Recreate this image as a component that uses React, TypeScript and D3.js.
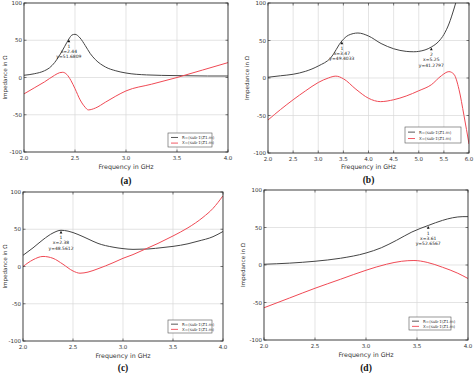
import React from "react";
import * as d3 from "d3";

// ---------- Data ----------
const yTicks = [-100, -50, 0, 50, 100];
const xTicksA = [2.0, 2.5, 3.0, 3.5, 4.0];
const xTicksB = [2.0, 2.5, 3.0, 3.5, 4.0, 4.5, 5.0, 5.5, 6.0];
const legendLabels = ["R=(sub-1\\Z1.m)", "X=(sub-1\\Z1.m)"];

// panel (a)
const aRFreq = [2.0, 2.1, 2.2, 2.25, 2.3, 2.35, 2.4, 2.44, 2.47, 2.5, 2.55, 2.6, 2.65, 2.7, 2.8, 2.9, 3.0, 3.2, 3.5, 3.8, 4.0];
const aR = [3, 5, 9, 13, 20, 30, 42, 51.7, 57, 58, 53, 43, 32, 24, 14, 9, 6, 3.5, 2.5, 2, 2];
const aXFreq = [2.0, 2.1, 2.2, 2.3, 2.35, 2.38, 2.42, 2.46, 2.5, 2.55, 2.6, 2.63, 2.7, 2.8, 2.9, 3.0, 3.25, 3.5, 3.75, 4.0];
const aX = [-22, -14, -6, 3, 6.5, 7, 4, -4, -15, -30, -40, -43.5, -41, -33, -25, -18, -9, 0, 10, 20];

// panel (b)
const bRFreq = [2.0, 2.25, 2.5, 2.75, 3.0, 3.25, 3.47, 3.6, 3.79, 4.0, 4.25, 4.5, 4.75, 4.9, 5.0, 5.25, 5.4, 5.5, 5.6, 5.7, 5.8];
const bR = [1, 3, 5, 9, 16, 27, 49.4, 57, 60, 56, 46, 39, 35.5, 35, 35.5, 41.3, 49, 58, 72, 92, 115];
const bXFreq = [2.0, 2.25, 2.5, 2.75, 3.0, 3.2, 3.35, 3.5, 3.75, 4.0, 4.24, 4.5, 4.75, 5.0, 5.25, 5.45, 5.6, 5.7, 5.8, 5.9, 6.0];
const bX = [-56, -42, -29, -17, -6, 0, 2.5, -1, -15, -27, -31.5, -29, -24, -17, -9, 3, 8.5, 5, -15, -50, -88];

// panel (c)
const cRFreq = [2.0, 2.1, 2.2, 2.3, 2.38, 2.45, 2.55, 2.65, 2.75, 2.9, 3.0, 3.1, 3.25, 3.4, 3.5, 3.65, 3.75, 3.9, 4.0];
const cR = [15, 25, 36, 45, 48.6, 47.5, 43, 37, 31, 26, 24, 23, 23.5, 25.5, 27, 30.5, 34, 40, 47];
const cXFreq = [2.0, 2.1, 2.2, 2.3, 2.4, 2.5, 2.57, 2.65, 2.75, 2.9, 3.0, 3.1, 3.2, 3.35, 3.5, 3.65, 3.8, 3.9, 4.0];
const cX = [0, 9, 13.5, 11, 3, -6, -9, -7.5, -3, 5, 11, 16, 22, 31, 41, 52, 66, 78, 95];

// panel (d)
const dRFreq = [2.0, 2.25, 2.5, 2.75, 3.0, 3.15, 3.3, 3.45, 3.61, 3.75, 3.85, 3.95, 4.0];
const dR = [1, 2.5, 5, 9, 16, 23, 33, 44, 52.7, 59.5, 63, 64.5, 64.5];
const dXFreq = [2.0, 2.25, 2.5, 2.75, 3.0, 3.2, 3.35, 3.47, 3.6, 3.75, 3.9, 4.0];
const dX = [-57, -44, -31, -19, -7, 1, 5, 6, 3.5, -3, -11, -18];

// markers
const aMarkers = [{ n: "1", x: 2.44, y: 51.6809 }];
const bMarkers = [
  { n: "1", x: 3.47, y: 49.4033 },
  { n: "2", x: 5.25, y: 41.2797 },
];
const cMarkers = [{ n: "1", x: 2.38, y: 48.5612 }];
const dMarkers = [{ n: "1", x: 3.61, y: 52.6567 }];

const FONT = "DejaVu Sans, sans-serif";

type Marker = { n: string; x: number; y: number };
type PanelProps = {
  id: string;
  left: number; right: number; top: number; bottom: number;
  xDomain: [number, number];
  xTicks: number[];
  rF: number[]; r: number[]; xF: number[]; x: number[];
  markers: Marker[];
  ylabelX: number;
  xlabelY: number;
  label: string;
  labelY: number;
  legend: { x: number; y: number; w: number; h: number };
};

function Panel(p: PanelProps) {
  const xs = d3.scaleLinear().domain(p.xDomain).range([p.left, p.right]);
  const ys = d3.scaleLinear().domain([-100, 100]).range([p.bottom, p.top]);
  const line = d3
    .line<[number, number]>()
    .x((d) => xs(d[0]))
    .y((d) => ys(d[1]))
    .curve(d3.curveMonotoneX);
  const rPath = line(p.rF.map((f, i) => [f, p.r[i]] as [number, number])) || "";
  const xPath = line(p.xF.map((f, i) => [f, p.x[i]] as [number, number])) || "";
  const cx = (p.left + p.right) / 2;
  const cy = (p.top + p.bottom) / 2;
  const tl = 2.5;
  return (
    <g>
      <defs>
        <clipPath id={"clip" + p.id}>
          <rect x={p.left} y={p.top} width={p.right - p.left} height={p.bottom - p.top} />
        </clipPath>
      </defs>
      <rect x={p.left} y={p.top} width={p.right - p.left} height={p.bottom - p.top} fill="#fff" />
      {/* grid */}
      {p.xTicks.slice(1, -1).map((t) => (
        <line key={"gx" + t} x1={xs(t)} x2={xs(t)} y1={p.top} y2={p.bottom} stroke="#d8d8d8" strokeWidth={0.7} />
      ))}
      {yTicks.slice(1, -1).map((t) => (
        <line key={"gy" + t} x1={p.left} x2={p.right} y1={ys(t)} y2={ys(t)} stroke="#d8d8d8" strokeWidth={0.7} />
      ))}
      {/* curves */}
      <g clipPath={`url(#clip${p.id})`}>
        <path d={rPath} fill="none" stroke="#454545" strokeWidth={1} />
        <path d={xPath} fill="none" stroke="#f04a55" strokeWidth={1} />
      </g>
      {/* frame */}
      <rect x={p.left} y={p.top} width={p.right - p.left} height={p.bottom - p.top} fill="none" stroke="#2a2a2a" strokeWidth={0.9} />
      {/* ticks */}
      {p.xTicks.map((t) => (
        <g key={"tx" + t}>
          <line x1={xs(t)} x2={xs(t)} y1={p.bottom} y2={p.bottom - tl} stroke="#2a2a2a" strokeWidth={0.6} />
          <line x1={xs(t)} x2={xs(t)} y1={p.top} y2={p.top + tl} stroke="#2a2a2a" strokeWidth={0.6} />
          <text x={xs(t)} y={p.bottom + 7.5} fontSize={5.5} textAnchor="middle" fontFamily={FONT} fill="#333">
            {t.toFixed(1)}
          </text>
        </g>
      ))}
      {yTicks.map((t) => (
        <g key={"ty" + t}>
          <line x1={p.left} x2={p.left + tl} y1={ys(t)} y2={ys(t)} stroke="#2a2a2a" strokeWidth={0.6} />
          <line x1={p.right} x2={p.right - tl} y1={ys(t)} y2={ys(t)} stroke="#2a2a2a" strokeWidth={0.6} />
          <text x={p.left - 2} y={ys(t) + 2} fontSize={5.5} textAnchor="end" fontFamily={FONT} fill="#333">
            {t < 0 ? "-" + Math.abs(t) : String(t)}
          </text>
        </g>
      ))}
      {/* markers */}
      {p.markers.map((m) => {
        const mx = xs(m.x);
        const my = ys(m.y);
        return (
          <g key={"m" + m.n}>
            <path d={`M${mx},${my + 0.5} L${mx - 1.4},${my + 3.2} L${mx + 1.4},${my + 3.2} Z`} fill="#111" />
            <text x={mx} y={my + 9} fontSize={4.5} textAnchor="middle" fontFamily={FONT} fill="#222">{m.n}</text>
            <text x={mx} y={my + 14} fontSize={4.5} textAnchor="middle" fontFamily={FONT} fill="#222">{"x=" + m.x.toFixed(2)}</text>
            <text x={mx} y={my + 19.5} fontSize={4.5} textAnchor="middle" fontFamily={FONT} fill="#222">{"y=" + m.y.toFixed(4)}</text>
          </g>
        );
      })}
      {/* legend */}
      <g>
        <rect x={p.legend.x} y={p.legend.y} width={p.legend.w} height={p.legend.h} fill="#fff" stroke="#555" strokeWidth={0.6} />
        {legendLabels.map((lab, i) => {
          const ly = p.legend.y + p.legend.h * (i === 0 ? 0.32 : 0.72);
          return (
            <g key={lab}>
              <line x1={p.legend.x + 3} x2={p.legend.x + 10} y1={ly} y2={ly} stroke={i === 0 ? "#454545" : "#f04a55"} strokeWidth={0.9} />
              <text x={p.legend.x + 14} y={ly + 1.4} fontSize={4} fontFamily={FONT} fill="#333">{lab}</text>
            </g>
          );
        })}
      </g>
      {/* axis labels */}
      <text x={cx} y={p.xlabelY} fontSize={6.3} textAnchor="middle" fontFamily={FONT} fill="#333">
        Frequency in GHz
      </text>
      <text
        transform={`translate(${p.ylabelX},${cy}) rotate(-90)`}
        fontSize={5.6}
        textAnchor="middle"
        fontFamily={FONT}
        fill="#333"
      >
        Impedance in Ω
      </text>
      <text x={cx} y={p.labelY} fontSize={9.5} fontWeight="bold" textAnchor="middle" fontFamily="Liberation Serif, serif" fill="#111">
        {p.label}
      </text>
    </g>
  );
}

export default function App() {
  return (
    <svg width={474} height={373} style={{ position: "absolute", left: 0, top: 0, background: "#fff" }}>
      <rect width={474} height={373} fill="#fff" />
      <Panel id="a" left={24} right={228} top={3} bottom={152} xDomain={[2, 4]} xTicks={xTicksA}
        rF={aRFreq} r={aR} xF={aXFreq} x={aX} markers={aMarkers}
        ylabelX={7} xlabelY={169} label="(a)" labelY={184}
        legend={{ x: 168, y: 133, w: 44, h: 14 }} />
      <Panel id="b" left={268} right={469} top={3} bottom={153} xDomain={[2, 6]} xTicks={xTicksB}
        rF={bRFreq} r={bR} xF={bXFreq} x={bX} markers={bMarkers}
        ylabelX={249} xlabelY={169} label="(b)" labelY={183}
        legend={{ x: 405, y: 127, w: 56, h: 16 }} />
      <Panel id="c" left={23} right={223} top={192} bottom={341} xDomain={[2, 4]} xTicks={xTicksA}
        rF={cRFreq} r={cR} xF={cXFreq} x={cX} markers={cMarkers}
        ylabelX={7} xlabelY={358} label="(c)" labelY={371}
        legend={{ x: 168, y: 320, w: 44, h: 13 }} />
      <Panel id="d" left={264} right={468} top={190} bottom={340} xDomain={[2, 4]} xTicks={xTicksA}
        rF={dRFreq} r={dR} xF={dXFreq} x={dX} markers={dMarkers}
        ylabelX={245} xlabelY={357} label="(d)" labelY={371}
        legend={{ x: 409, y: 317, w: 42, h: 13 }} />
    </svg>
  );
}
